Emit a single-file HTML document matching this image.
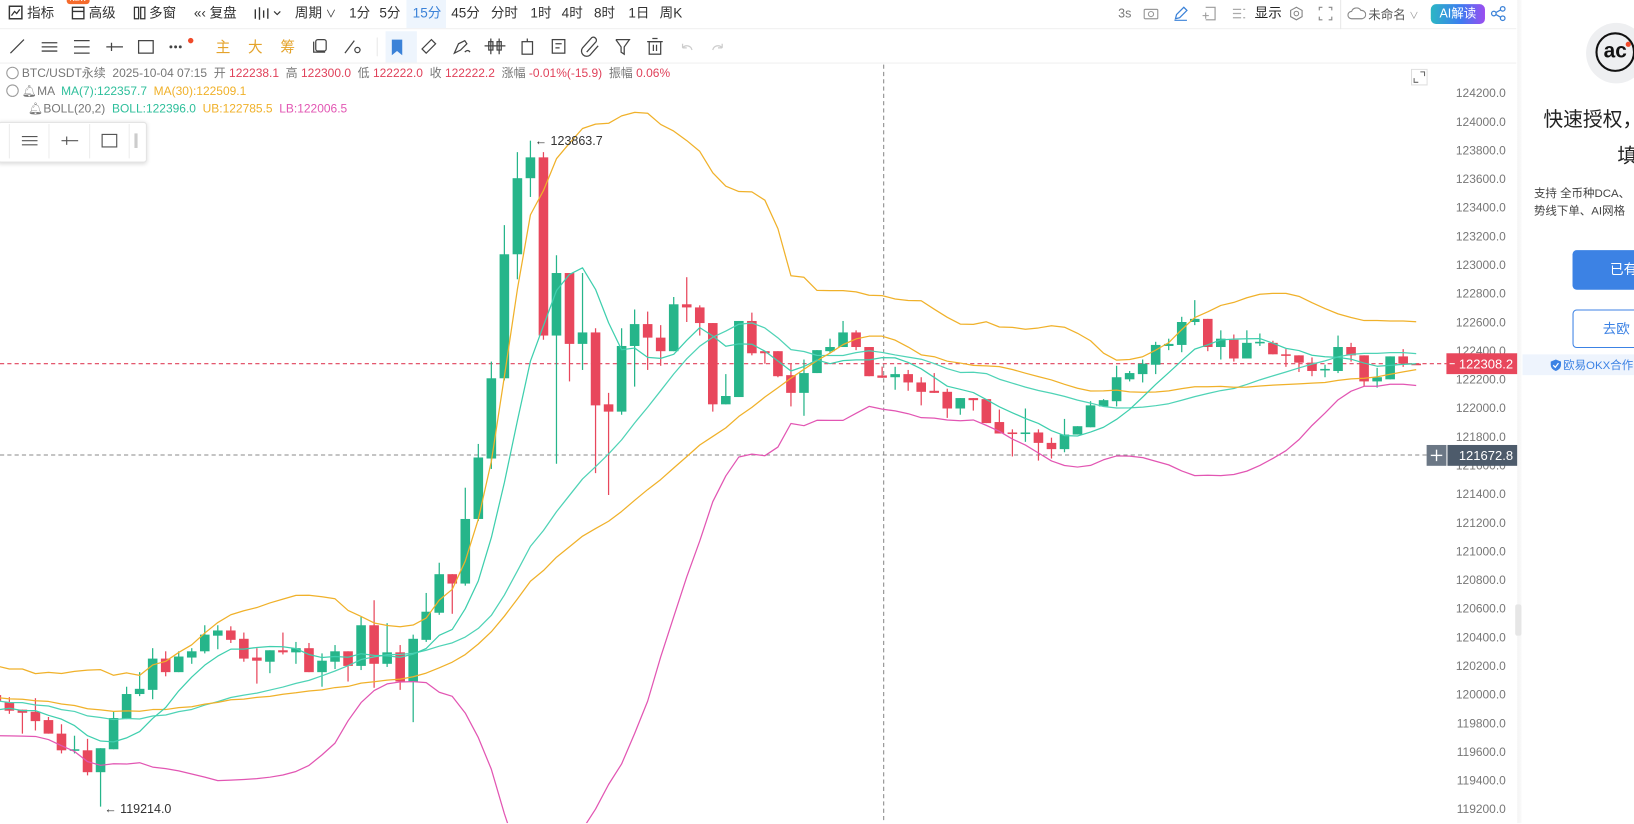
<!DOCTYPE html>
<html><head><meta charset="utf-8">
<style>
html,body{margin:0;padding:0;background:#fff;overflow:hidden;width:1634px;height:824px}
#w{position:absolute;left:0;top:0;width:1568px;height:790px;overflow:hidden;transform:scale(1.04209);transform-origin:0 0;font-family:"Liberation Sans","Noto Sans CJK SC",sans-serif;color:#333}
.t{position:absolute;white-space:nowrap;font-size:13px;line-height:16px}
.g{color:#777}
.ic{position:absolute}
</style></head><body><div id="w">
<div style="position:absolute;left:0;top:0;width:1455px;height:27px;border-bottom:1px solid #f0f0f0"></div>
<div style="position:absolute;left:390px;top:0;width:38px;height:27px;background:#eef5fd"></div>
<svg class="ic" style="left:8px;top:5px" width="15" height="15"><rect x="1" y="1" width="12" height="12" fill="none" stroke="#333" stroke-width="1.4"/><polyline points="3,10 6,6 8,8 11,4" fill="none" stroke="#333" stroke-width="1.2"/></svg>
<div class="t" style="left:26px;top:5px">指标</div>
<svg class="ic" style="left:68px;top:5px" width="14" height="15"><rect x="1.5" y="2" width="11" height="11" fill="none" stroke="#333" stroke-width="1.3"/><line x1="1.5" y1="6" x2="12.5" y2="6" stroke="#333" stroke-width="1.3"/></svg>
<div class="t" style="left:85px;top:5px">高级</div>
<div style="position:absolute;left:64px;top:-6px;width:22px;height:10px;background:#f56b2c;border-radius:3px;color:#fff;font-size:7px;line-height:12px;text-align:center">NEW</div>
<svg class="ic" style="left:128px;top:6px" width="12" height="13"><rect x="1" y="1" width="4" height="11" fill="none" stroke="#333" stroke-width="1.2"/><rect x="7" y="1" width="4" height="11" fill="none" stroke="#333" stroke-width="1.2"/></svg>
<div class="t" style="left:143px;top:5px">多窗</div>
<div class="t" style="left:186px;top:5px">«‹ 复盘</div>
<svg class="ic" style="left:243px;top:6px" width="30" height="14"><g stroke="#333" stroke-width="1.3"><line x1="2" y1="3" x2="2" y2="12"/><line x1="6" y1="1" x2="6" y2="13"/><line x1="10" y1="4" x2="10" y2="11"/><line x1="14" y1="2" x2="14" y2="12"/></g><polyline points="20,5 23,8 26,5" fill="none" stroke="#333" stroke-width="1.1"/></svg>
<div class="t" style="left:283px;top:5px">周期 <span style="font-size:10px">∨</span></div>
<div class="t" style="left:335px;top:5px">1分</div>
<div class="t" style="left:364px;top:5px">5分</div>
<div class="t" style="left:396px;top:5px;color:#3b82d8">15分</div>
<div class="t" style="left:433px;top:5px">45分</div>
<div class="t" style="left:471px;top:5px">分时</div>
<div class="t" style="left:509px;top:5px">1时</div>
<div class="t" style="left:539px;top:5px">4时</div>
<div class="t" style="left:570px;top:5px">8时</div>
<div class="t" style="left:603px;top:5px">1日</div>
<div class="t" style="left:633px;top:5px">周K</div>
<div class="t g" style="left:1073px;top:5px;font-size:12px">3s</div>
<svg class="ic" style="left:1097px;top:6px" width="16" height="14"><rect x="1" y="3" width="13" height="9" rx="1" fill="none" stroke="#999" stroke-width="1.1"/><circle cx="7.5" cy="7.5" r="2.5" fill="none" stroke="#999"/></svg>
<svg class="ic" style="left:1125px;top:5px" width="16" height="16"><path d="M3 13 L4 9 L11 2 L14 5 L7 12 Z" fill="none" stroke="#3b82d8" stroke-width="1.2"/><line x1="2" y1="14.5" x2="14" y2="14.5" stroke="#3b82d8"/></svg>
<svg class="ic" style="left:1153px;top:6px" width="14" height="14"><polyline points="4,1 13,1 13,13 4,13" fill="none" stroke="#999" stroke-width="1.1"/><line x1="1" y1="9" x2="7" y2="9" stroke="#999"/><line x1="4" y1="6" x2="4" y2="12" stroke="#999"/></svg>
<svg class="ic" style="left:1183px;top:7px" width="12" height="12"><g stroke="#aaa" stroke-width="1.2"><line x1="0" y1="2" x2="8" y2="2"/><line x1="0" y1="6" x2="8" y2="6"/><line x1="0" y1="10" x2="8" y2="10"/><line x1="10" y1="2" x2="12" y2="2"/><line x1="10" y1="10" x2="12" y2="10"/></g></svg>
<div class="t" style="left:1204px;top:5px;font-size:13px;color:#222">显示</div>
<svg class="ic" style="left:1237px;top:6px" width="14" height="14"><polygon points="7,1 12.5,4 12.5,10 7,13 1.5,10 1.5,4" fill="none" stroke="#888" stroke-width="1.1"/><circle cx="7" cy="7" r="2.2" fill="none" stroke="#888"/></svg>
<svg class="ic" style="left:1265px;top:6px" width="14" height="14"><g fill="none" stroke="#888" stroke-width="1.1"><polyline points="1,4 1,1 4,1"/><polyline points="10,1 13,1 13,4"/><polyline points="1,10 1,13 4,13"/><polyline points="13,10 13,13 10,13"/></g></svg>
<div style="position:absolute;left:1286px;top:0;width:1px;height:28px;background:#e8e8e8"></div>
<svg class="ic" style="left:1293px;top:7px" width="18" height="12"><path d="M4 11 A3.5 3.5 0 0 1 4 4 A5 5 0 0 1 13 3 A4 4 0 0 1 14 11 Z" fill="none" stroke="#888" stroke-width="1.1"/></svg>
<div class="t" style="left:1313px;top:6px;font-size:12px;color:#555">未命名 <span style="font-size:9px;color:#999">∨</span></div>
<div style="position:absolute;left:1373px;top:4px;width:52px;height:19px;border-radius:5px;background:linear-gradient(90deg,#2bb6c4,#3d7cf0 55%,#9b4df0);color:#fff;font-size:12px;line-height:19px;text-align:center">AI解读</div>
<svg class="ic" style="left:1430px;top:5px" width="16" height="16"><g fill="none" stroke="#3b82d8" stroke-width="1.2"><circle cx="12" cy="3.5" r="2.2"/><circle cx="3.5" cy="8" r="2.2"/><circle cx="12" cy="12.5" r="2.2"/><line x1="5.5" y1="7" x2="10" y2="4.5"/><line x1="5.5" y1="9" x2="10" y2="11.5"/></g></svg>

<div style="position:absolute;left:0;top:60px;width:1455px;height:1px;background:#f0f0f0"></div>
<div style="position:absolute;left:370px;top:30px;width:30px;height:30px;background:#eef5fd"></div>
<svg class="ic" style="left:0;top:30px" width="720" height="30">
<g stroke="#444" stroke-width="1.2" fill="none">
<line x1="10" y1="21" x2="23" y2="8"/>
<line x1="40" y1="11" x2="55" y2="11"/><line x1="40" y1="15" x2="55" y2="15"/><line x1="40" y1="19" x2="55" y2="19"/>
<line x1="71" y1="9" x2="86" y2="9"/><line x1="71" y1="15" x2="86" y2="15"/><line x1="71" y1="21" x2="86" y2="21"/>
<line x1="102" y1="15" x2="118" y2="15"/><line x1="107" y1="11" x2="107" y2="19"/>
<rect x="133" y="9" width="14" height="12"/>
<polyline points="301,10 301,20 312,20"/><rect x="303" y="8" width="10" height="11" rx="2"/>
<line x1="331" y1="21" x2="340" y2="9"/><circle cx="343" cy="18" r="2.5"/>
<path d="M409 21 L405 17 L414 8 L418 12 Z"/>
<path d="M436 21 L440 12 L446 9 L448 12 L442 18 Z"/><path d="M446 20 q3 -3 5 0"/>
<rect x="469" y="10" width="4" height="8"/><rect x="477" y="10" width="4" height="8"/><line x1="471" y1="7" x2="471" y2="22"/><line x1="479" y1="7" x2="479" y2="22"/><line x1="465" y1="14" x2="485" y2="14"/>
<rect x="501" y="10" width="10" height="12"/><line x1="506" y1="7" x2="506" y2="10"/>
<rect x="530" y="8" width="12" height="13"/><line x1="533" y1="12" x2="539" y2="12"/><line x1="533" y1="16" x2="537" y2="16"/>
<path d="M563 20 L572 10 a3 3 0 0 0 -4 -4 L559 16 a5 5 0 0 0 7 7 L574 14"/>
<polyline points="591,8 604,8 599,15 599,22 596,20 596,15 591,8"/>
<rect x="623" y="10" width="11" height="12"/><line x1="621" y1="10" x2="636" y2="10"/><line x1="626" y1="7" x2="631" y2="7"/><line x1="627" y1="13" x2="627" y2="19"/><line x1="630" y1="13" x2="630" y2="19"/>
</g>
<g stroke="#ccc" stroke-width="1.2" fill="none"><path d="M655 16 a5 5 0 0 1 9 2 M655 16 l0 -4 M655 16 l4 0"/><path d="M693 16 a5 5 0 0 0 -9 2 M693 16 l0 -4 M693 16 l-4 0"/></g>
<g fill="#444"><circle cx="164" cy="15" r="1.4"/><circle cx="168.5" cy="15" r="1.4"/><circle cx="173" cy="15" r="1.4"/></g>
<circle cx="183" cy="9" r="2.6" fill="#f04a2a"/>
<path d="M376 8 L386 8 L386 23 L381 19 L376 23 Z" fill="#3b82d8"/>
<line x1="362" y1="6" x2="362" y2="24" stroke="#e8e8e8"/>
</svg>
<div class="t" style="left:207px;top:37px;font-size:14px;color:#e4a32b">主</div>
<div class="t" style="left:238px;top:37px;font-size:14px;color:#e4a32b">大</div>
<div class="t" style="left:269px;top:37px;font-size:14px;color:#e4a32b">筹</div>

<div class="t" style="left:6px;top:63px;font-size:11.5px;color:#777"><span style="display:inline-block;width:10px;height:10px;border:1px solid #999;border-radius:50%;vertical-align:-2px;margin-right:3px"></span>BTC/USDT永续 &nbsp;2025-10-04 07:15 &nbsp;开 <span style="color:#e0415a">122238.1</span> &nbsp;高 <span style="color:#e0415a">122300.0</span> &nbsp;低 <span style="color:#e0415a">122222.0</span> &nbsp;收 <span style="color:#e0415a">122222.2</span> &nbsp;涨幅 <span style="color:#e0415a">-0.01%(-15.9)</span> &nbsp;振幅 <span style="color:#e0415a">0.06%</span></div>
<div class="t" style="left:6px;top:80px;font-size:11.5px;color:#777"><span style="display:inline-block;width:10px;height:10px;border:1px solid #999;border-radius:50%;vertical-align:-2px;margin-right:3px"></span>🔔︎MA &nbsp;<span style="color:#2ebf9b">MA(7):122357.7</span> &nbsp;<span style="color:#f0b12a">MA(30):122509.1</span></div>
<div class="t" style="left:27px;top:97px;font-size:11.5px;color:#777">🔔︎BOLL(20,2) &nbsp;<span style="color:#2ebf9b">BOLL:122396.0</span> &nbsp;<span style="color:#f0b12a">UB:122785.5</span> &nbsp;<span style="color:#e256b3">LB:122006.5</span></div>

<svg id="ch" class="ic" style="left:0;top:0" width="1568" height="790"></svg>

<div style="position:absolute;left:-2px;top:117px;width:141px;height:37px;background:#fff;border:1px solid #e4e4e4;box-shadow:0 1px 4px rgba(0,0,0,.15);border-radius:3px"></div>
<svg class="ic" style="left:0;top:117px" width="140" height="37"><g stroke="#555" stroke-width="1.1" fill="none">
<line x1="9" y1="2" x2="9" y2="35" stroke="#eee"/><line x1="47" y1="2" x2="47" y2="35" stroke="#eee"/><line x1="86" y1="2" x2="86" y2="35" stroke="#eee"/><line x1="124" y1="2" x2="124" y2="35" stroke="#eee"/>
<line x1="21" y1="14" x2="36" y2="14"/><line x1="21" y1="18" x2="36" y2="18"/><line x1="21" y1="22" x2="36" y2="22"/>
<line x1="59" y1="18" x2="75" y2="18"/><line x1="64" y1="14" x2="64" y2="22"/>
<rect x="98" y="12" width="14" height="12"/></g>
<rect x="129" y="11" width="3" height="14" fill="#ccc"/></svg>
<svg class="ic" style="left:1354px;top:66px" width="16" height="16"><rect x="0.5" y="0.5" width="15" height="15" fill="#fff" stroke="#ddd"/><polyline points="9,3 13,3 13,7" fill="none" stroke="#666"/><polyline points="3,9 3,13 7,13" fill="none" stroke="#666"/></svg>

<div style="position:absolute;left:1456px;top:0;width:4px;height:790px;background:linear-gradient(90deg,#f4f4f4,#fafafa)"></div>
<div style="position:absolute;left:1454px;top:580px;width:6px;height:30px;background:#e6e6e6;border-radius:2px"></div>
<div style="position:absolute;left:1522px;top:22px;width:58px;height:58px;border-radius:50%;background:#eeeff1"></div>
<div style="position:absolute;left:1531px;top:31px;width:38px;height:38px;border-radius:50%;border:2px solid #111;box-sizing:border-box;font:bold 20px 'Liberation Sans',sans-serif;line-height:33px;text-align:center;color:#111">ac</div>
<div style="position:absolute;left:1560px;top:40px;width:5px;height:5px;border-radius:50%;background:#f04a2a"></div>
<div class="t" style="left:1481px;top:104px;font-size:19px;line-height:24px;color:#222">快速授权，</div>
<div class="t" style="left:1552px;top:139px;font-size:19px;line-height:24px;color:#222">填</div>
<div class="t" style="left:1472px;top:178px;font-size:11px;color:#444">支持 全币种DCA、</div>
<div class="t" style="left:1472px;top:195px;font-size:11px;color:#444">势线下单、AI网格</div>
<div style="position:absolute;left:1509px;top:240px;width:80px;height:38px;background:#3c82e4;border-radius:4px"></div>
<div class="t" style="left:1545px;top:251px;color:#fff;font-size:13px">已有</div>
<div style="position:absolute;left:1509px;top:297px;width:80px;height:37px;border:1px solid #3c82e4;border-radius:4px;box-sizing:border-box"></div>
<div class="t" style="left:1538px;top:308px;color:#3c82e4;font-size:13px">去欧</div>
<div style="position:absolute;left:1461px;top:340px;width:107px;height:20px;background:#eef4fd"></div>
<svg class="ic" style="left:1488px;top:345px" width="10" height="11"><path d="M5 0 L10 2 L10 5 Q10 9 5 11 Q0 9 0 5 L0 2 Z" fill="#3c82e4"/><polyline points="2.5,5.5 4.5,7.5 7.5,3.5" fill="none" stroke="#fff" stroke-width="1.2"/></svg>
<div class="t" style="left:1500px;top:343px;color:#3c82e4;font-size:11px">欧易OKX合作</div>

<script>
var P=[645,672,650,682,645,676,650,684,646,680,650,682,645,686,650,684,655,688,650,686,650,690,665,694,668,692,672,694,676];
var C=[[674,682,669,685],[681,684,681,704],[683,692,670,701],[691,704,688,704],[704,720,695,723],[720,719,706,723],[720,741,709,744],[741,718,718,774],[719,689,683,719],[690,666,659,690],
[666,661,645,668],[662,632,622,671],[632,645,625,649],[645,630,625,645],[631,625,622,637],[625,609,600,627],[610,605,600,623],[605,614,601,617],[613,632,607,635],[631,634,622,656],
[635,624,624,646],[624,626,607,628],[626,622,616,637],[622,645,617,645],[645,634,627,659],[635,625,619,642],[625,639,625,654],[639,600,592,643],[600,637,576,660],[637,626,598,640],
[626,654,619,662],[654,613,609,693],[614,587,569,616],[588,551,540,590],[551,560,551,589],[560,498,468,562],[498,439,426,500],[440,363,347,450],[363,244,216,365],[244,171,146,268],
[171,151,135,189],[151,322,146,326],[322,262,245,445],[262,330,262,366],[330,319,262,355],[319,389,315,454],[388,395,377,475],[395,332,315,398],[332,311,297,371],[311,324,299,355],
[324,337,312,351],[337,292,285,337],[292,295,266,309],[295,310,293,322],[310,388,310,395],[388,380,359,388],[381,308,308,381],[308,339,300,341],[337,339,337,349],[337,361,337,362],
[360,377,349,390],[377,358,345,399],[358,336,336,358],[337,333,325,339],[333,319,308,333],[319,333,317,336],[333,361,333,361],[360.3,362.5,351.8,362.5],[362,359,352,374],[359,367,355,375],
[367,376,362,389],[375,377,358,377],[376,392,373,401],[392,382,382,398],[382,384,382,394],[383,406,383,406],[405,416,393,416],[415,416,412,438],[416,415,392,424],[415,425,412,442],
[425,431,420,440],[431,417,402,434],[417,409,409,417],[410,389,385,410],[390,384,383,390],[385,362,351,390],[364,358,356,366],[359,349,345,367],[350,331,328,359],[332,330,325,336],
[331,309,304,338],[309,306,288,312],[306,333,306,337],[333,325,317,345],[326,344,321,347],[344,329,317,344],[329,328,320,332],[329,340,327,340],[340,341,335,352],[341,348,341,357],
[348,356,343,361],[355,354,350,362],[356,333,322,358],[333,341,329,347],[341,366,341,371],[366,362,353,372],[364,342,342,364],[342,349,335,352],[349,350,349,350]];
var s=document.getElementById('ch'),h='';
function X(i){return 9+12.5*i;}
h+='<defs><clipPath id="cp"><rect x="0" y="62" width="1366" height="728"/></clipPath></defs>';
for(var p=124200;p>=119200;p-=200){var y=89.25+(124200-p)*0.13743;h+='<text x="1445" y="'+(y+4)+'" text-anchor="end" font-size="11.5" fill="#777" font-family="Liberation Sans,sans-serif">'+p+'.0</text>';}
h+='<line x1="848" y1="62" x2="848" y2="790" stroke="#888" stroke-width="1" stroke-dasharray="4,3"/>';
h+='<line x1="0" y1="436.6" x2="1369" y2="436.6" stroke="#888" stroke-width="1" stroke-dasharray="4,3"/>';
h+='<line x1="0" y1="349" x2="1388" y2="349" stroke="#e0415a" stroke-width="1" stroke-dasharray="4,3"/>';
h+='<g clip-path="url(#cp)">';
var all=[[667,673,665,676]].concat(C);
for(var k=0;k<all.length;k++){var d=all[k],i=k-1,x=X(i),up=d[1]<d[0],col=up?'#26b58a':'#e8475c';
var t=Math.min(d[0],d[1]),b=Math.max(d[0],d[1]);if(b-t<1.5){b=t+1.5;}
h+='<line x1="'+x+'" y1="'+d[2]+'" x2="'+x+'" y2="'+d[3]+'" stroke="'+col+'" stroke-width="1.2"/>';
h+='<rect x="'+(x-4.6)+'" y="'+t+'" width="9.2" height="'+(b-t)+'" fill="'+col+'"/>';}
var cl=P.concat([673]).concat(C.map(function(d){return d[1];}));var off=30;
function ma(k,n){var s=0;for(var j=k-n+1;j<=k;j++)s+=cl[j];return s/n;}
var m7=[],m30=[],mid=[],ub=[],lb=[];
for(var i=-1;i<C.length;i++){var k=i+off,x=X(i);m7.push(x+','+ma(k,7).toFixed(1));if(k>=29)m30.push(x+','+ma(k,30).toFixed(1));
var m=ma(k,20),v=0;for(var j=k-19;j<=k;j++)v+=(cl[j]-m)*(cl[j]-m);var sd=Math.sqrt(v/20);
mid.push(x+','+m.toFixed(1));ub.push(x+','+(m-2*sd).toFixed(1));lb.push(x+','+(m+2*sd).toFixed(1));}
function pl(a,c){return '<polyline points="'+a.join(' ')+'" fill="none" stroke="'+c+'" stroke-width="1.2" stroke-linejoin="round"/>';}
h+=pl(ub,'#f0b12a')+pl(lb,'#e256b3')+pl(mid,'#4fd3b6')+pl(m30,'#f0b12a')+pl(m7,'#3fcfae');
h+='</g>';
h+='<text x="513" y="139" font-size="12" fill="#333" font-family="Liberation Sans,sans-serif">← 123863.7</text>';
h+='<text x="100" y="780" font-size="12" fill="#333" font-family="Liberation Sans,sans-serif">← 119214.0</text>';
h+='<rect x="1388" y="339" width="68" height="20" fill="#e8475c"/><line x1="1391" y1="349" x2="1396" y2="349" stroke="#fff"/><text x="1452" y="353.5" text-anchor="end" font-size="12.5" fill="#fff" font-family="Liberation Sans,sans-serif">122308.2</text>';
h+='<rect x="1369" y="427" width="19" height="20" fill="#6b7785"/><line x1="1373" y1="437" x2="1384" y2="437" stroke="#fff" stroke-width="1.3"/><line x1="1378.5" y1="431.5" x2="1378.5" y2="442.5" stroke="#fff" stroke-width="1.3"/>';
h+='<rect x="1389" y="427" width="67" height="20" fill="#4d5b6b"/><text x="1452" y="441.5" text-anchor="end" font-size="12.5" fill="#fff" font-family="Liberation Sans,sans-serif">121672.8</text>';
s.innerHTML=h;
</script>
</div></body></html>
